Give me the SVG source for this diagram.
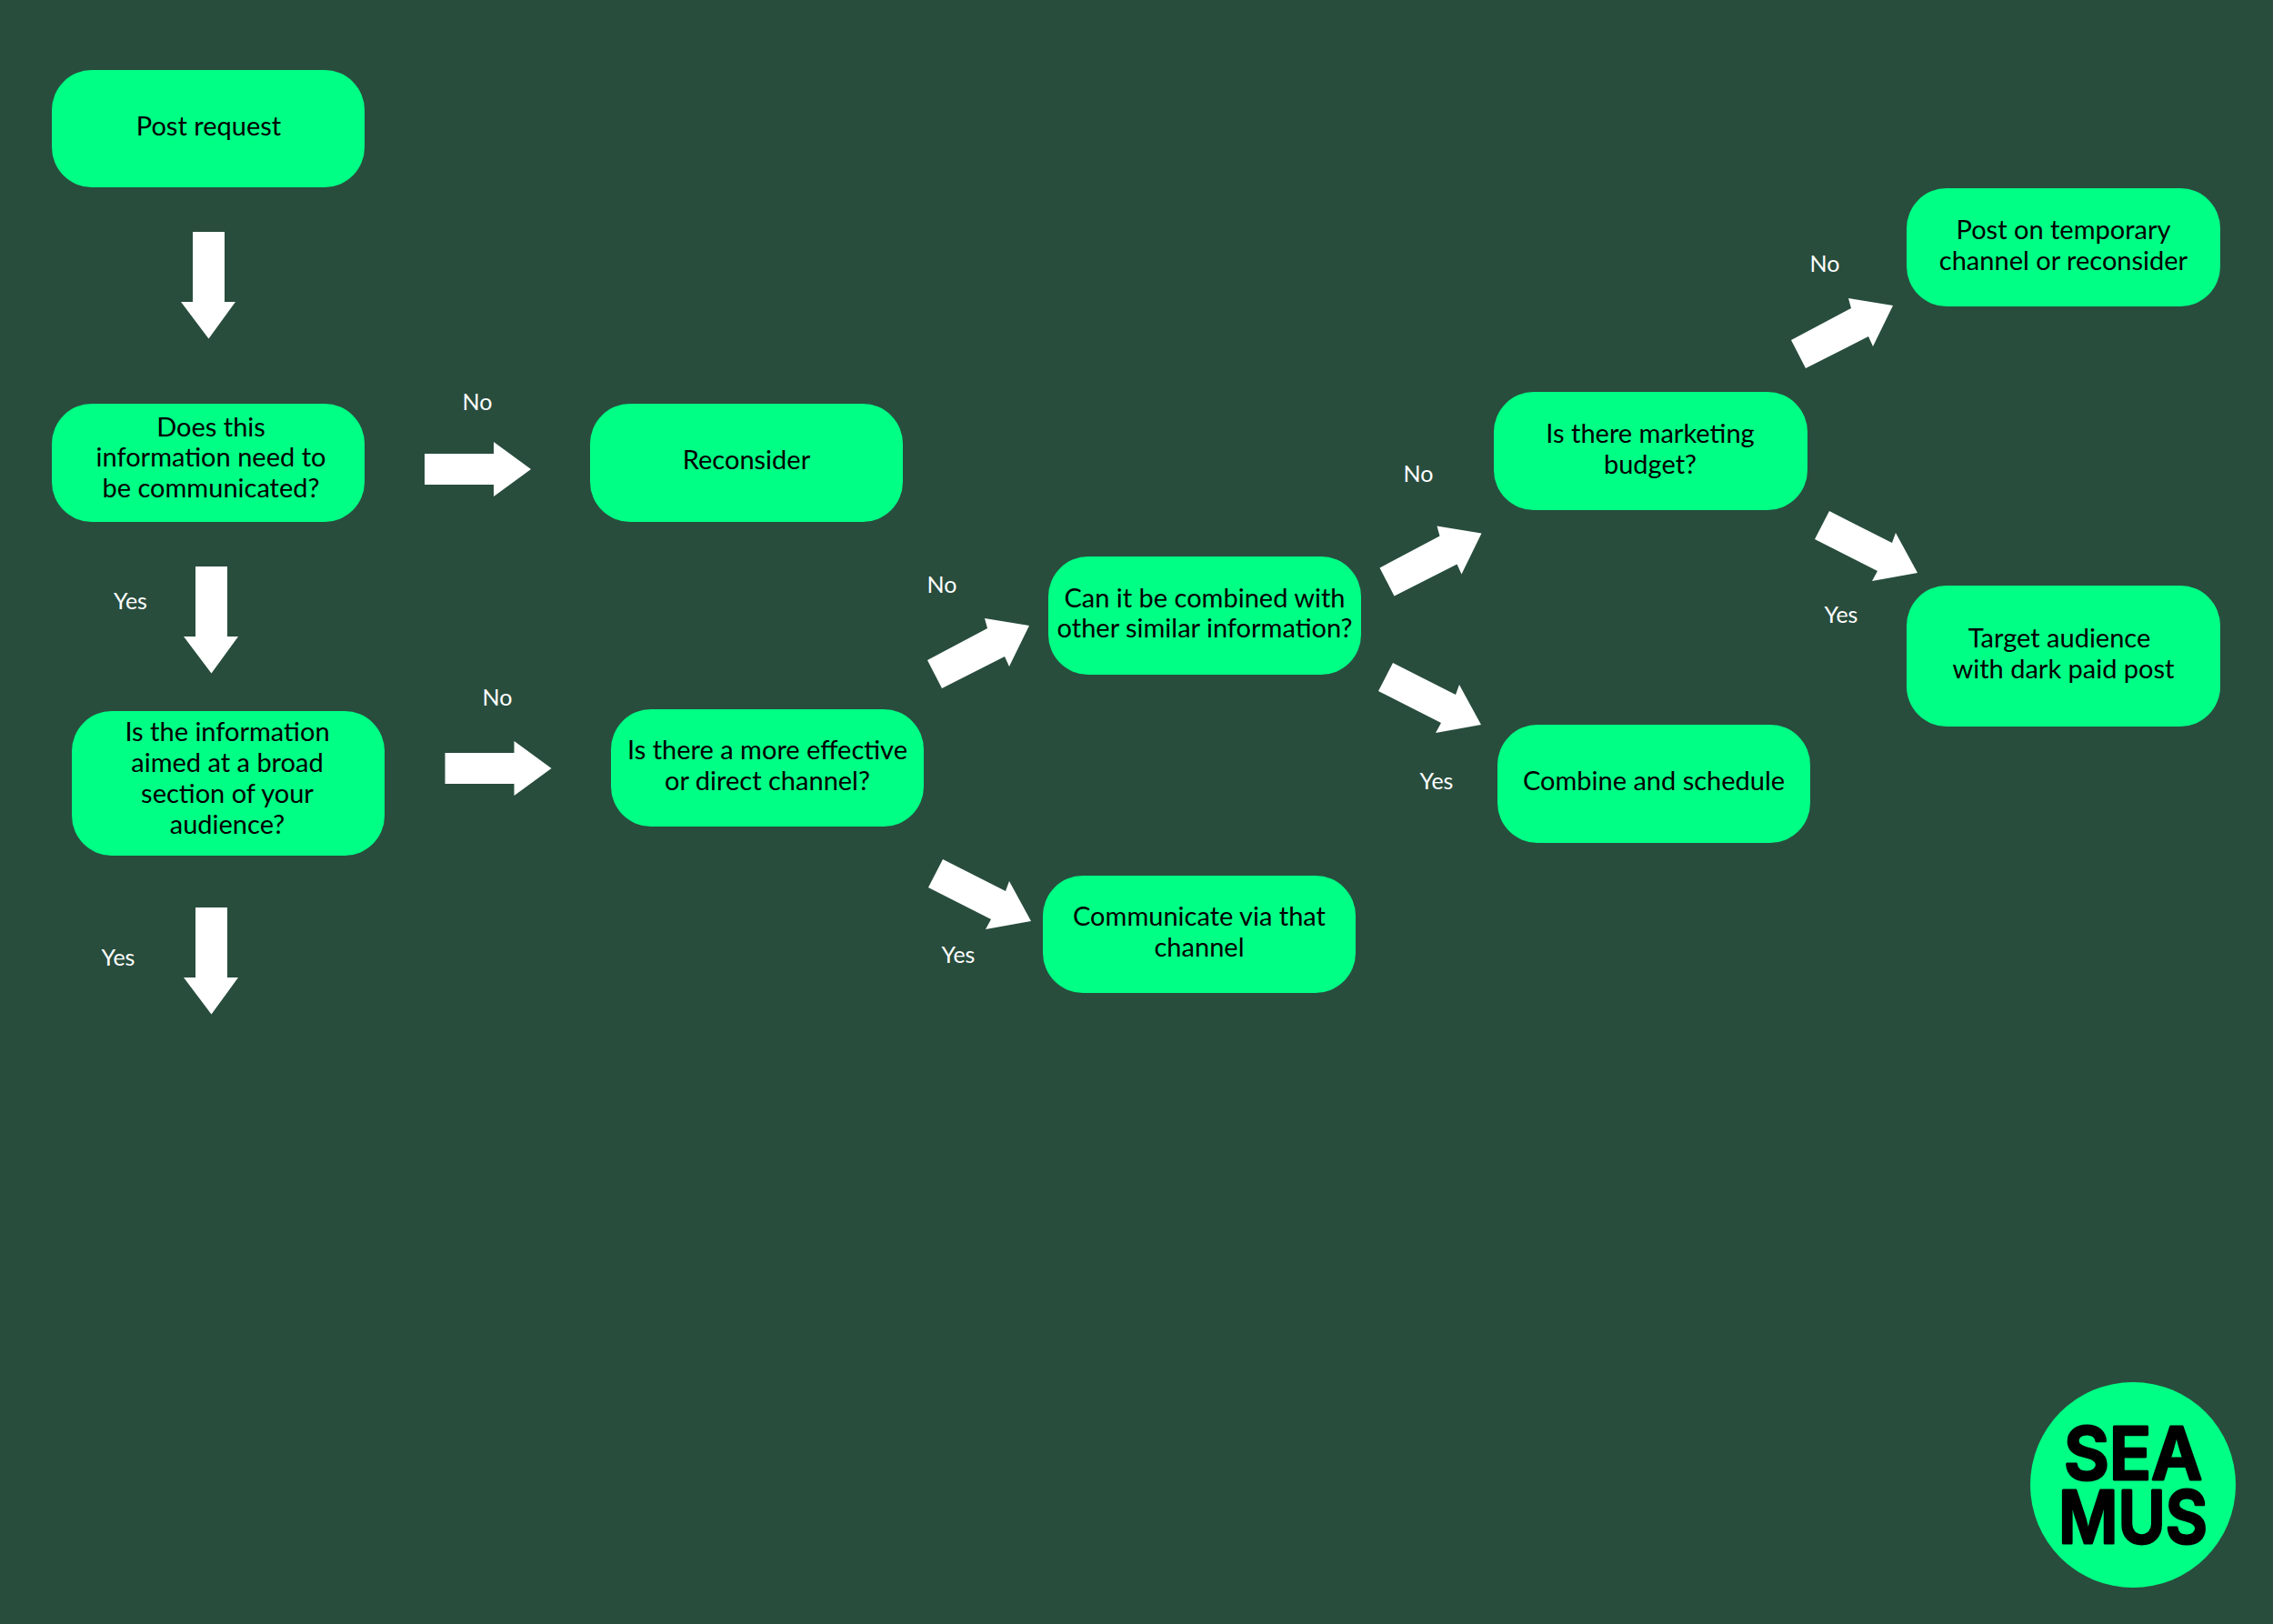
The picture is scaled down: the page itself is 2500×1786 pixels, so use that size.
<svg xmlns="http://www.w3.org/2000/svg" width="2500" height="1786" viewBox="0 0 2500 1786">
<style>
.bg{fill:#284d3d}
.n{fill:#00ff85}
.a{fill:#fff}
text{font-family:"Lato","Liberation Sans",sans-serif;text-anchor:middle}
.t{font-size:29px;fill:#000}
.l{font-size:25px;fill:#fff}
.logo{font-family:"Inter","Liberation Sans",sans-serif;font-size:80px;font-weight:600;fill:#000;stroke:#000;stroke-width:3;stroke-linejoin:round}
</style>
<defs>
<polygon id="d" points="212,255 247,255 247,332 259,332 229.5,372.5 199,332 212,332"/>
<polygon id="r" points="467,499 543,499 543,486 584,516 543,546 543,533 467,533"/>
<polygon id="u" points="1970,374 2036,339 2033,328 2082,336 2060,381 2055,370 1986,405"/>
<polygon id="w" points="2012,562 2081,597 2085,586 2109,630 2059,639 2065,628 1996,593"/>
</defs>
<rect class="bg" width="2500" height="1786"/>
<g id="connectors">
<use href="#d" class="a"/>
<use href="#d" class="a" x="3" y="368"/>
<use href="#d" class="a" x="3" y="743"/>
<use href="#r" class="a"/>
<use href="#r" class="a" x="22.5" y="329"/>
<use href="#u" class="a"/>
<use href="#u" class="a" x="-452.5" y="250.5"/>
<use href="#u" class="a" x="-950" y="352"/>
<use href="#w" class="a"/>
<use href="#w" class="a" x="-480" y="167"/>
<use href="#w" class="a" x="-975" y="383"/>
</g>
<g id="labels">
<text class="l" x="525" y="451">No</text>
<text class="l" x="547" y="776">No</text>
<text class="l" x="1036" y="652">No</text>
<text class="l" x="1560" y="530">No</text>
<text class="l" x="2007" y="299">No</text>
<text class="l" x="143.500" y="670">Yes</text>
<text class="l" x="130" y="1062">Yes</text>
<text class="l" x="1054" y="1059">Yes</text>
<text class="l" x="1580" y="868">Yes</text>
<text class="l" x="2025" y="685">Yes</text>
</g>
<g id="n1"><rect class="n" x="57" y="77" width="344" height="129" rx="44"/><text class="t" x="229.500" y="149">Post request</text></g>
<g id="n2"><rect class="n" x="57" y="444" width="344" height="130" rx="44"/><text class="t" x="232" y="480">Does this</text><text class="t" x="232" y="513">information need to</text><text class="t" x="232" y="547">be communicated?</text></g>
<g id="n3"><rect class="n" x="649" y="444" width="344" height="130" rx="44"/><text class="t" x="821" y="516">Reconsider</text></g>
<g id="n4"><rect class="n" x="79" y="782" width="344" height="159" rx="44"/><text class="t" x="250" y="815">Is the information</text><text class="t" x="250" y="849">aimed at a broad</text><text class="t" x="250" y="883">section of your</text><text class="t" x="250" y="917">audience?</text></g>
<g id="n5"><rect class="n" x="672" y="780" width="344" height="129" rx="44"/><text class="t" x="844" y="835">Is there a more effective</text><text class="t" x="844" y="869">or direct channel?</text></g>
<g id="n6"><rect class="n" x="1153" y="612" width="344" height="130" rx="44"/><text class="t" x="1325" y="668">Can it be combined with</text><text class="t" x="1325" y="701">other similar information?</text></g>
<g id="n7"><rect class="n" x="1147" y="963" width="344" height="129" rx="44"/><text class="t" x="1319" y="1018">Communicate via that</text><text class="t" x="1319" y="1052">channel</text></g>
<g id="n8"><rect class="n" x="1643" y="431" width="345" height="130" rx="44"/><text class="t" x="1815" y="487">Is there marketing</text><text class="t" x="1815" y="521">budget?</text></g>
<g id="n9"><rect class="n" x="1647" y="797" width="344" height="130" rx="44"/><text class="t" x="1819" y="869">Combine and schedule</text></g>
<g id="n10"><rect class="n" x="2097" y="207" width="345" height="130" rx="44"/><text class="t" x="2269.500" y="263">Post on temporary</text><text class="t" x="2269.500" y="297">channel or reconsider</text></g>
<g id="n11"><rect class="n" x="2097" y="644" width="345" height="155" rx="44"/><text class="t" x="2265" y="712">Target audience</text><text class="t" x="2269.500" y="746">with dark paid post</text></g>
<g id="logo"><circle class="n" cx="2346" cy="1633" r="113"/><text class="logo" x="2346" y="1627" textLength="152" lengthAdjust="spacingAndGlyphs">SEA</text><text class="logo" x="2346" y="1697" textLength="164" lengthAdjust="spacingAndGlyphs">MUS</text></g>
</svg>
